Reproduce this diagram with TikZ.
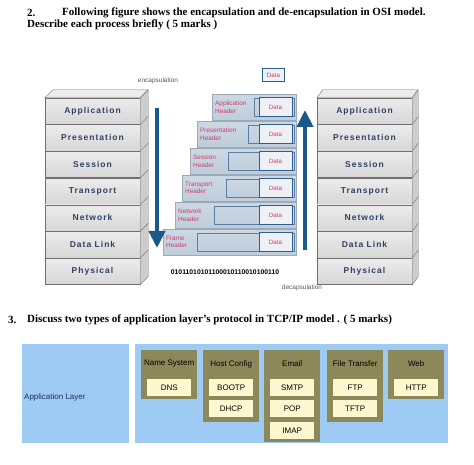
\documentclass[tikz,border=0pt]{standalone}
\usepackage{fontspec}
\setmainfont{Liberation Serif}
\setsansfont{Liberation Sans}
\newfontfamily\layerfont[LetterSpace=12]{Liberation Sans}
\usepackage{tikz}
\usetikzlibrary{positioning, arrows.meta, calc}

\definecolor{stackface}{HTML}{D6D6D6}
\definecolor{stacktop}{HTML}{ECECEC}
\definecolor{stackside}{HTML}{CDCDCD}
\definecolor{stackline}{HTML}{6F6F6F}
\definecolor{layertext}{HTML}{2F4163}
\definecolor{pdublue}{HTML}{B7C7D7}
\definecolor{datablue}{HTML}{2E5E8C}
\definecolor{hdrred}{HTML}{D23B6A}
\definecolor{arrowblue}{HTML}{1B5A88}
\definecolor{applblue}{HTML}{9DCBF4}
\definecolor{protbox}{HTML}{8C8859}
\definecolor{cream}{HTML}{FFF7CF}
\definecolor{navytext}{HTML}{1E2D5A}

\begin{document}
\begin{tikzpicture}[x=1pt, y=-1pt]
	% Define styles
	\tikzset{
		question/.style={font=\bfseries\fontsize{11}{13}\selectfont, inner sep=0pt, anchor=west},
		layer/.style={rectangle, draw=stackline, top color=stacktop, bottom color=stackface, minimum width=95pt, minimum height=26.3pt, inner sep=0pt, text=layertext, font=\layerfont\bfseries\fontsize{8.5}{9}\selectfont},
		topface/.style={draw=stackline, fill=stacktop},
		sideface/.style={draw=stackline, fill=stackside},
		caption/.style={font=\sffamily\fontsize{6.5}{7}\selectfont, text=gray!70!black, inner sep=0pt},
		pdu/.style={rectangle, draw=pdublue!85!black, top color=pdublue!70!white, middle color=white!95!pdublue, bottom color=pdublue!90!white, minimum height=26pt, inner sep=0pt, anchor=north west},
		header/.style={font=\sffamily\fontsize{6.4}{7.2}\selectfont, text=hdrred, align=left, anchor=west, inner sep=0pt},
		payload/.style={draw=datablue!80, line width=0.6pt},
		datablock/.style={rectangle, draw=datablue, line width=0.8pt, fill=white!75!pdublue, minimum width=33pt, minimum height=19pt, inner sep=0pt, text=hdrred, font=\sffamily\fontsize{6.2}{7}\selectfont},
		bits/.style={font=\sffamily\bfseries\fontsize{6.8}{8}\selectfont, inner sep=0pt},
		line/.style={draw=arrowblue, line width=4pt, -{Triangle[length=17pt, width=16pt]}},
		band/.style={rectangle, fill=applblue, inner sep=0pt, anchor=north west},
		group/.style={rectangle, fill=protbox, minimum width=56pt, inner sep=0pt, anchor=north west},
		grouptitle/.style={font=\sffamily\fontsize{8}{9}\selectfont, inner sep=0pt},
		proto/.style={rectangle, fill=cream, minimum width=44pt, minimum height=17pt, inner sep=0pt, font=\sffamily\fontsize{8}{9}\selectfont}
	}
	\useasboundingbox[fill=white] (0,0) rectangle (474,465);

	% Questions
	\node[question] (q2num) at (27,13) {2.};
	\node[question] (q2a) at (62,13) {Following figure shows the encapsulation and de-encapsulation in OSI model.};
	\node[question] (q2b) at (27,25) {Describe each process briefly ( 5 marks )};
	\node[question] (q3num) at (8,320) {3.};
	\node[question] (q3) at (27,320) {Discuss two types of application layer’s protocol in TCP/IP model . ( 5 marks)};

	% Sender stack
	\node[layer] (lapp) at (92.5,111.15) {Application};
	\node[layer, below=0pt of lapp] (lpre) {Presentation};
	\node[layer, below=0pt of lpre] (lses) {Session};
	\node[layer, below=0pt of lses] (ltra) {Transport};
	\node[layer, below=0pt of ltra] (lnet) {Network};
	\node[layer, below=0pt of lnet] (ldat) {Data Link};
	\node[layer, below=0pt of ldat] (lphy) {Physical};
	\draw[topface] (lapp.north west) -- ++(8,-8) -- ++(95,0) -- (lapp.north east) -- cycle;
	\draw[sideface] (lapp.north east) -- ++(8,-8) -- ($(lphy.south east)+(8,-8)$) -- (lphy.south east) -- cycle;
	\draw[stackline] (lpre.north east) -- ++(8,-8);
	\draw[stackline] (lses.north east) -- ++(8,-8);
	\draw[stackline] (ltra.north east) -- ++(8,-8);
	\draw[stackline] (lnet.north east) -- ++(8,-8);
	\draw[stackline] (ldat.north east) -- ++(8,-8);
	\draw[stackline] (lphy.north east) -- ++(8,-8);

	% Receiver stack
	\node[layer] (rapp) at (364.5,111.15) {Application};
	\node[layer, below=0pt of rapp] (rpre) {Presentation};
	\node[layer, below=0pt of rpre] (rses) {Session};
	\node[layer, below=0pt of rses] (rtra) {Transport};
	\node[layer, below=0pt of rtra] (rnet) {Network};
	\node[layer, below=0pt of rnet] (rdat) {Data Link};
	\node[layer, below=0pt of rdat] (rphy) {Physical};
	\draw[topface] (rapp.north west) -- ++(6,-8) -- ++(95,0) -- (rapp.north east) -- cycle;
	\draw[sideface] (rapp.north east) -- ++(6,-8) -- ($(rphy.south east)+(6,-8)$) -- (rphy.south east) -- cycle;
	\draw[stackline] (rpre.north east) -- ++(6,-8);
	\draw[stackline] (rses.north east) -- ++(6,-8);
	\draw[stackline] (rtra.north east) -- ++(6,-8);
	\draw[stackline] (rnet.north east) -- ++(6,-8);
	\draw[stackline] (rdat.north east) -- ++(6,-8);
	\draw[stackline] (rphy.north east) -- ++(6,-8);

	% PDUs
	\node[datablock, minimum width=22pt, minimum height=13pt] (dtop) at (273.5,75) {Data};

	\node[pdu, minimum width=84pt] (papp) at (212,94) {};
	\node[header] (happ) at ($(papp.west)+(3,0)$) {Application\\Header};
	\draw[payload] (254,98) rectangle (294,116);
	\node[datablock] (dapp) at (275.5,107) {Data};

	\node[pdu, minimum width=99pt] (ppre) at (197,121) {};
	\node[header] (hpre) at ($(ppre.west)+(3,0)$) {Presentation\\Header};
	\draw[payload] (248,125) rectangle (294,143);
	\node[datablock] (dpre) at (275.5,134) {Data};

	\node[pdu, minimum width=106pt] (pses) at (190,148) {};
	\node[header] (hses) at ($(pses.west)+(3,0)$) {Session\\Header};
	\draw[payload] (228,152) rectangle (294,170);
	\node[datablock] (dses) at (275.5,161) {Data};

	\node[pdu, minimum width=114pt] (ptra) at (182,175) {};
	\node[header] (htra) at ($(ptra.west)+(3,0)$) {Transport\\Header};
	\draw[payload] (226,179) rectangle (294,197);
	\node[datablock] (dtra) at (275.5,188) {Data};

	\node[pdu, minimum width=121pt] (pnet) at (175,202) {};
	\node[header] (hnet) at ($(pnet.west)+(3,0)$) {Network\\Header};
	\draw[payload] (214,206) rectangle (294,224);
	\node[datablock] (dnet) at (275.5,215) {Data};

	\node[pdu, minimum width=133pt] (pfra) at (163,229) {};
	\node[header] (hfra) at ($(pfra.west)+(3,0)$) {Frame\\Header};
	\draw[payload] (197,233) rectangle (294,251);
	\node[datablock] (dfra) at (275.5,242) {Data};

	\node[bits] (bits) at (225,272) {01011010101100010110010100110};

	% Arrows
	\node[caption] (enc) at (158,81) {encapsulation};
	\node[caption] (dec) at (302,288) {decapsulation};
	\coordinate (encstart) at (157,108);
	\coordinate (encend) at (157,248);
	\coordinate (decstart) at (305,250);
	\coordinate (decend) at (305,110);
	\draw[line] (encstart) -- (encend);
	\draw[line] (decstart) -- (decend);

	% Application layer protocols
	\node[band, minimum width=107pt, minimum height=99pt] (appband) at (22,344) {};
	\node[band, minimum width=313pt, minimum height=99pt] (protoband) at (135,344) {};
	\node[font=\sffamily\fontsize{8}{9}\selectfont, text=navytext, anchor=west, inner sep=0pt] (applabel) at (24,397) {Application Layer};

	\node[group, minimum height=49pt] (gname) at (141,350) {};
	\node[grouptitle] (tname) at ($(gname.north)+(0,14)$) {Name System};
	\node[proto] (dns) at ($(gname.north)+(0,37.5)$) {DNS};

	\node[group, minimum height=72pt] (ghost) at (203,350) {};
	\node[grouptitle] (thost) at ($(ghost.north)+(0,14)$) {Host Config};
	\node[proto] (bootp) at ($(ghost.north)+(0,37.5)$) {BOOTP};
	\node[proto, below=4pt of bootp] (dhcp) {DHCP};

	\node[group, minimum height=92pt] (gmail) at (264,350) {};
	\node[grouptitle] (tmail) at ($(gmail.north)+(0,14)$) {Email};
	\node[proto] (smtp) at ($(gmail.north)+(0,37.5)$) {SMTP};
	\node[proto, below=4pt of smtp] (pop) {POP};
	\node[proto, below=4pt of pop] (imap) {IMAP};

	\node[group, minimum height=72pt] (gfile) at (327,350) {};
	\node[grouptitle] (tfile) at ($(gfile.north)+(0,14)$) {File Transfer};
	\node[proto] (ftp) at ($(gfile.north)+(0,37.5)$) {FTP};
	\node[proto, below=4pt of ftp] (tftp) {TFTP};

	\node[group, minimum height=49pt] (gweb) at (388,350) {};
	\node[grouptitle] (tweb) at ($(gweb.north)+(0,14)$) {Web};
	\node[proto] (http) at ($(gweb.north)+(0,37.5)$) {HTTP};
\end{tikzpicture}
\end{document}
